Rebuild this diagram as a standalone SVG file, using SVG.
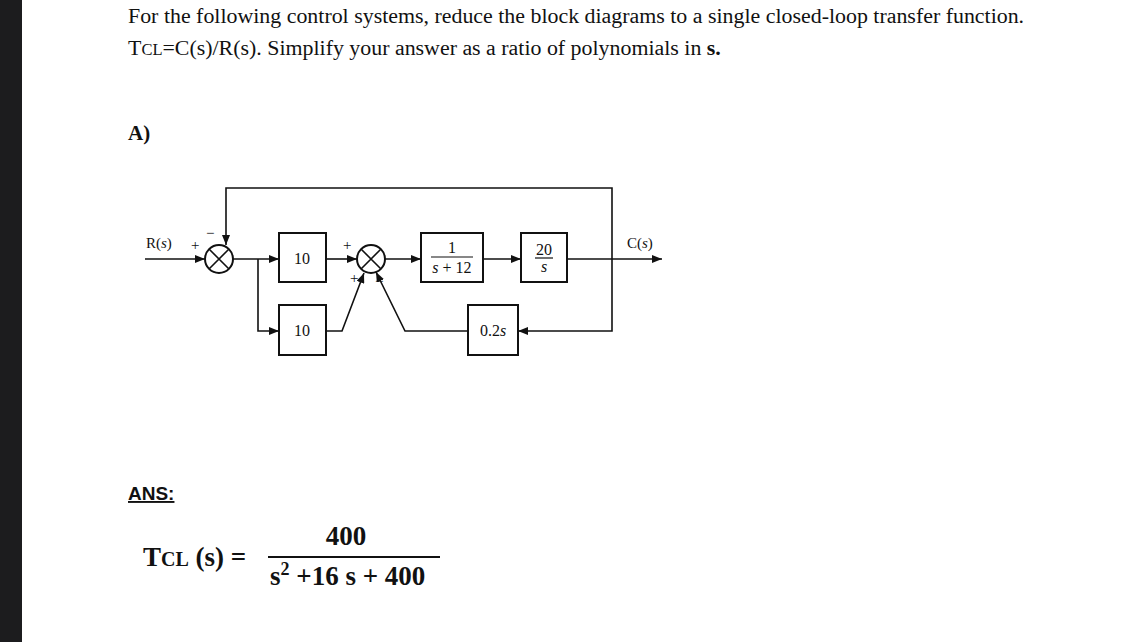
<svg xmlns="http://www.w3.org/2000/svg" width="1135" height="642" viewBox="0 0 1135 642">
<defs>
<marker id="ar" markerWidth="10" markerHeight="8" refX="10" refY="4" orient="auto" markerUnits="userSpaceOnUse"><path d="M0,0 L10,4 L0,8 z" fill="#111"/></marker>
<style>
.t{font-family:"Liberation Serif",serif;fill:#111}
.ln{fill:none;stroke:#111;stroke-width:1.6}
.bx{fill:#fff;stroke:#111;stroke-width:2}
.d{font-family:"Liberation Serif",serif;fill:#111;font-size:16px;text-anchor:middle}
</style>
</defs>
<rect width="1135" height="642" fill="#fff"/>
<rect x="0" y="0" width="22" height="642" fill="#1c1c1e"/>
<text class="t" x="128" y="23" font-size="21.9">For the following control systems, reduce the block diagrams to a single closed-loop transfer function.</text>
<text class="t" x="128" y="55" font-size="21.9">T<tspan font-size="16.5">CL</tspan>=C(s)/R(s). Simplify your answer as a ratio of polynomials in <tspan font-weight="bold">s.</tspan></text>
<text class="t" x="128" y="140" font-size="21" font-weight="bold">A)</text>
<g id="connectors">
<path class="ln" d="M145,259 H205" marker-end="url(#ar)"/>
<path class="ln" d="M612,259 V188 H226 V245" marker-end="url(#ar)"/>
<path class="ln" d="M233,259 H279" marker-end="url(#ar)"/>
<path class="ln" d="M258,259 V331 H279" marker-end="url(#ar)"/>
<path class="ln" d="M326,259 H357" marker-end="url(#ar)"/>
<path class="ln" d="M326,331 H342 L364,273" marker-end="url(#ar)"/>
<path class="ln" d="M468,331 H405 L376,272" marker-end="url(#ar)"/>
<path class="ln" d="M385,259 H421" marker-end="url(#ar)"/>
<path class="ln" d="M483,259 H521" marker-end="url(#ar)"/>
<path class="ln" d="M567,259 H662" marker-end="url(#ar)"/>
<path class="ln" d="M612,259 V331 H518" marker-end="url(#ar)"/>
</g>
<g id="sum1"><circle cx="219" cy="259" r="14" class="bx"/><path class="ln" d="M209,249 L229,269 M229,249 L209,269"/></g>
<g id="sum2"><circle cx="371" cy="259" r="14" class="bx"/><path class="ln" d="M361,249 L381,269 M381,249 L361,269"/></g>
<g id="b10a"><rect class="bx" x="279" y="233" width="47" height="49"/><text class="d" x="302" y="264">10</text></g>
<g id="b10b"><rect class="bx" x="279" y="305" width="47" height="50"/><text class="d" x="302" y="336">10</text></g>
<g id="bG"><rect class="bx" x="421" y="233" width="62" height="49"/><text class="d" x="452" y="253">1</text><line x1="431" y1="257" x2="473" y2="257" stroke="#111" stroke-width="1.2"/><text class="d" x="452" y="273" font-style="italic">s<tspan font-style="normal"> + 12</tspan></text></g>
<g id="bI"><rect class="bx" x="521" y="233" width="46" height="49"/><text class="d" x="544" y="255">20</text><line x1="535" y1="258" x2="553" y2="258" stroke="#111" stroke-width="1.2"/><text class="d" x="544" y="272" font-style="italic">s</text></g>
<g id="bH"><rect class="bx" x="468" y="305" width="50" height="50"/><text class="d" x="493" y="336">0.2<tspan font-style="italic">s</tspan></text></g>
<g id="labels" font-family="Liberation Serif,serif" font-size="15" fill="#111">
<text x="146" y="248">R(<tspan font-style="italic">s</tspan>)</text>
<text x="627" y="248">C(<tspan font-style="italic">s</tspan>)</text>
<text x="191" y="250">+</text><text x="206" y="238">−</text>
<text x="343" y="250">+</text><text x="350" y="283">+</text><text x="375" y="286">−</text>
</g>
<text x="128" y="500" font-family="Liberation Sans,sans-serif" font-size="19" font-weight="bold" text-decoration="underline" fill="#111">ANS:</text>
<g font-family="Liberation Serif,serif" font-weight="bold" fill="#111" font-size="27">
<text x="143" y="566">T<tspan font-size="20">CL</tspan> (s)  =</text>
<text x="346" y="545" text-anchor="middle">400</text>
<line x1="268" y1="557" x2="440" y2="557" stroke="#111" stroke-width="2"/>
<text x="270" y="585">s<tspan font-size="18" dy="-10">2</tspan><tspan dy="10"> +16 s + 400</tspan></text>
</g>
</svg>
